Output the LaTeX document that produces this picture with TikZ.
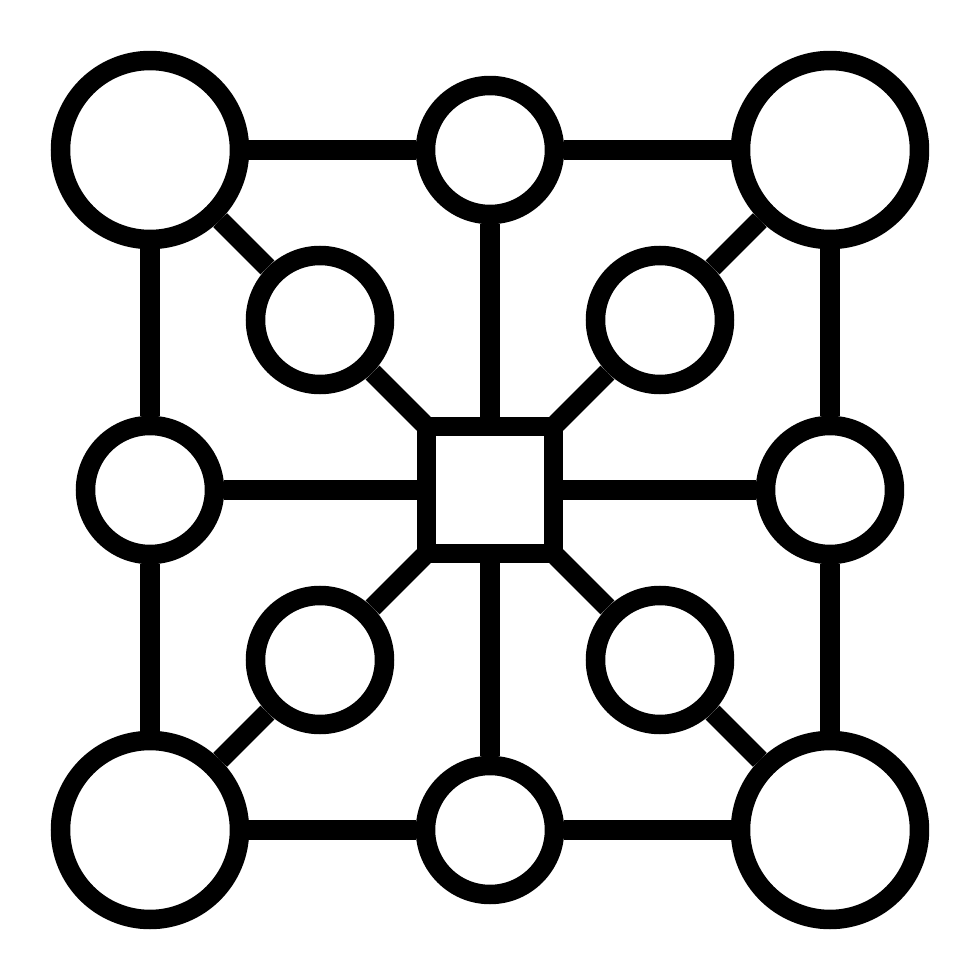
\documentclass[tikz,border=0pt]{standalone}
\usepackage{tikz}
\tikzset{big/.style = {circle, line width=0.195cm, minimum size=1.79cm, inner sep=0pt, draw},
         sm/.style  = {circle, line width=0.195cm, minimum size=1.29cm, inner sep=0pt, draw},
         hub/.style = {rectangle, line width=0.195cm, minimum size=1.27cm, inner sep=0pt, draw},
         ln/.style  = {line width=0.195cm}}
\begin{document}
\begin{tikzpicture}
    \useasboundingbox (0,0) rectangle (9.8,9.8);
    \node[big] (tl) at (1.5,8.3) {}; \node[sm] (tm) at (4.9,8.3) {}; \node[big] (tr) at (8.3,8.3) {};
    \node[sm] (ml) at (1.5,4.9) {}; \node[hub] (c) at (4.9,4.9) {}; \node[sm] (mr) at (8.3,4.9) {};
    \node[big] (bl) at (1.5,1.5) {}; \node[sm] (bm) at (4.9,1.5) {}; \node[big] (br) at (8.3,1.5) {};
    \node[sm] (dtl) at (3.2,6.6) {}; \node[sm] (dtr) at (6.6,6.6) {};
    \node[sm] (dbl) at (3.2,3.2) {}; \node[sm] (dbr) at (6.6,3.2) {};
    % outer frame
    \draw[ln] (tl) -- (tm); \draw[ln] (tm) -- (tr);
    \draw[ln] (bl) -- (bm); \draw[ln] (bm) -- (br);
    \draw[ln] (tl) -- (ml); \draw[ln] (ml) -- (bl);
    \draw[ln] (tr) -- (mr); \draw[ln] (mr) -- (br);
    % spokes
    \draw[ln] (tm) -- (c); \draw[ln] (bm) -- (c);
    \draw[ln] (ml) -- (c); \draw[ln] (mr) -- (c);
    \draw[ln] (tl) -- (dtl); \draw[ln, shorten >=-0.1cm] (dtl) -- (c.north west);
    \draw[ln] (tr) -- (dtr); \draw[ln, shorten >=-0.1cm] (dtr) -- (c.north east);
    \draw[ln] (bl) -- (dbl); \draw[ln, shorten >=-0.1cm] (dbl) -- (c.south west);
    \draw[ln] (br) -- (dbr); \draw[ln, shorten >=-0.1cm] (dbr) -- (c.south east);
\end{tikzpicture}
\end{document}
